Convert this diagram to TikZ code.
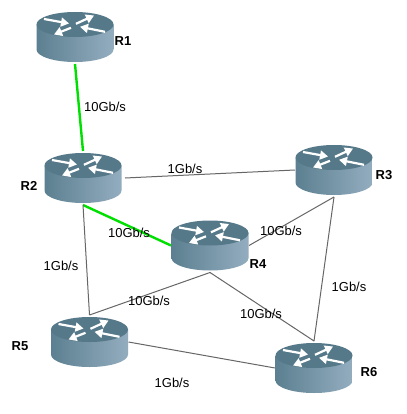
\documentclass[tikz,border=0pt]{standalone}
\usepackage{fontspec}
\setmainfont{Liberation Sans}
\usetikzlibrary{arrows.meta}
\tikzset{
  routerbox/.style={rectangle,minimum width=78pt,minimum height=54pt,inner sep=0pt,outer sep=0pt},
  thin link/.style={draw=black!60,line width=1pt},
  fast link/.style={draw=green!88!black,line width=2.4pt},
  speed/.style={font=\fontsize{13}{15}\selectfont,text=black,inner sep=0pt},
  rname/.style={font=\bfseries\fontsize{13}{15}\selectfont,text=black,inner sep=0pt},
  rarrow/.style={white,line width=2.2pt,-{Triangle[length=8pt,width=9pt]}},
}
\definecolor{rdark}{HTML}{56798A}
\definecolor{rlight}{HTML}{93ADBF}
\definecolor{rmid}{HTML}{5C8091}
\newcommand{\routerdraw}[1]{%
  \begin{scope}[shift={(#1)}]
    \path[left color=rmid,right color=rlight] (-38.5,-12.5) -- (-38.5,12.5) arc[start angle=180,end angle=0,x radius=38.5,y radius=12.5] -- (38.5,-12.5) -- cycle;
    \fill[rdark] (0,-12.5) ellipse[x radius=38.5,y radius=12.5];
    \draw[rarrow] (-31,-18) -- (-6,-13.5);
    \draw[rarrow] (1,-13.2) -- (19,-21.5);
    \draw[rarrow] (30,-5.2) -- (5,-10.2);
    \draw[rarrow] (-4,-9.2) -- (-21,-2.5);
  \end{scope}}
\begin{document}
\begin{tikzpicture}[x=1pt,y=-1pt]
\useasboundingbox (0,0) rectangle (406,414);
\fill[white] (0,0) rectangle (406,414);
\node[routerbox] (r1) at (75,37) {};
\node[routerbox] (r2) at (83,178) {};
\node[routerbox] (r3) at (334,170) {};
\node[routerbox] (r4) at (210,245.5) {};
\node[routerbox] (r5) at (89.5,342) {};
\node[routerbox] (r6) at (314,368) {};
\draw[fast link] (r1.south) -- (r2.north);
\draw[fast link] (r2.south) -- (r4.west);
\draw[thin link] ([xshift=3pt]r2.east) -- (r3.west);
\draw[thin link] (r2.south) -- (r5.north);
\draw[thin link] (r4.east) -- (r3.south);
\draw[thin link] (r3.south) -- (r6.north);
\draw[thin link] (r4.south) -- (r5.north);
\draw[thin link] (r4.south) -- (r6.north);
\draw[thin link] (r5.east) -- (r6.west);
\routerdraw{r1}\routerdraw{r2}\routerdraw{r3}\routerdraw{r4}\routerdraw{r5}\routerdraw{r6}
\node[rname] (n1) at (123,41) {R1};
\node[rname] (n2) at (29,186) {R2};
\node[rname] (n3) at (384,175) {R3};
\node[rname] (n4) at (258,264) {R4};
\node[rname] (n5) at (20,346) {R5};
\node[rname] (n6) at (369,372) {R6};
\node[speed] (s1) at (105,107) {10Gb/s};
\node[speed] (s2) at (185,169) {1Gb/s};
\node[speed] (s3) at (129,233) {10Gb/s};
\node[speed] (s4) at (281,231) {10Gb/s};
\node[speed] (s5) at (61,266) {1Gb/s};
\node[speed] (s6) at (149,301) {10Gb/s};
\node[speed] (s7) at (261,314) {10Gb/s};
\node[speed] (s8) at (349,287) {1Gb/s};
\node[speed] (s9) at (172,383) {1Gb/s};
\end{tikzpicture}
\end{document}
